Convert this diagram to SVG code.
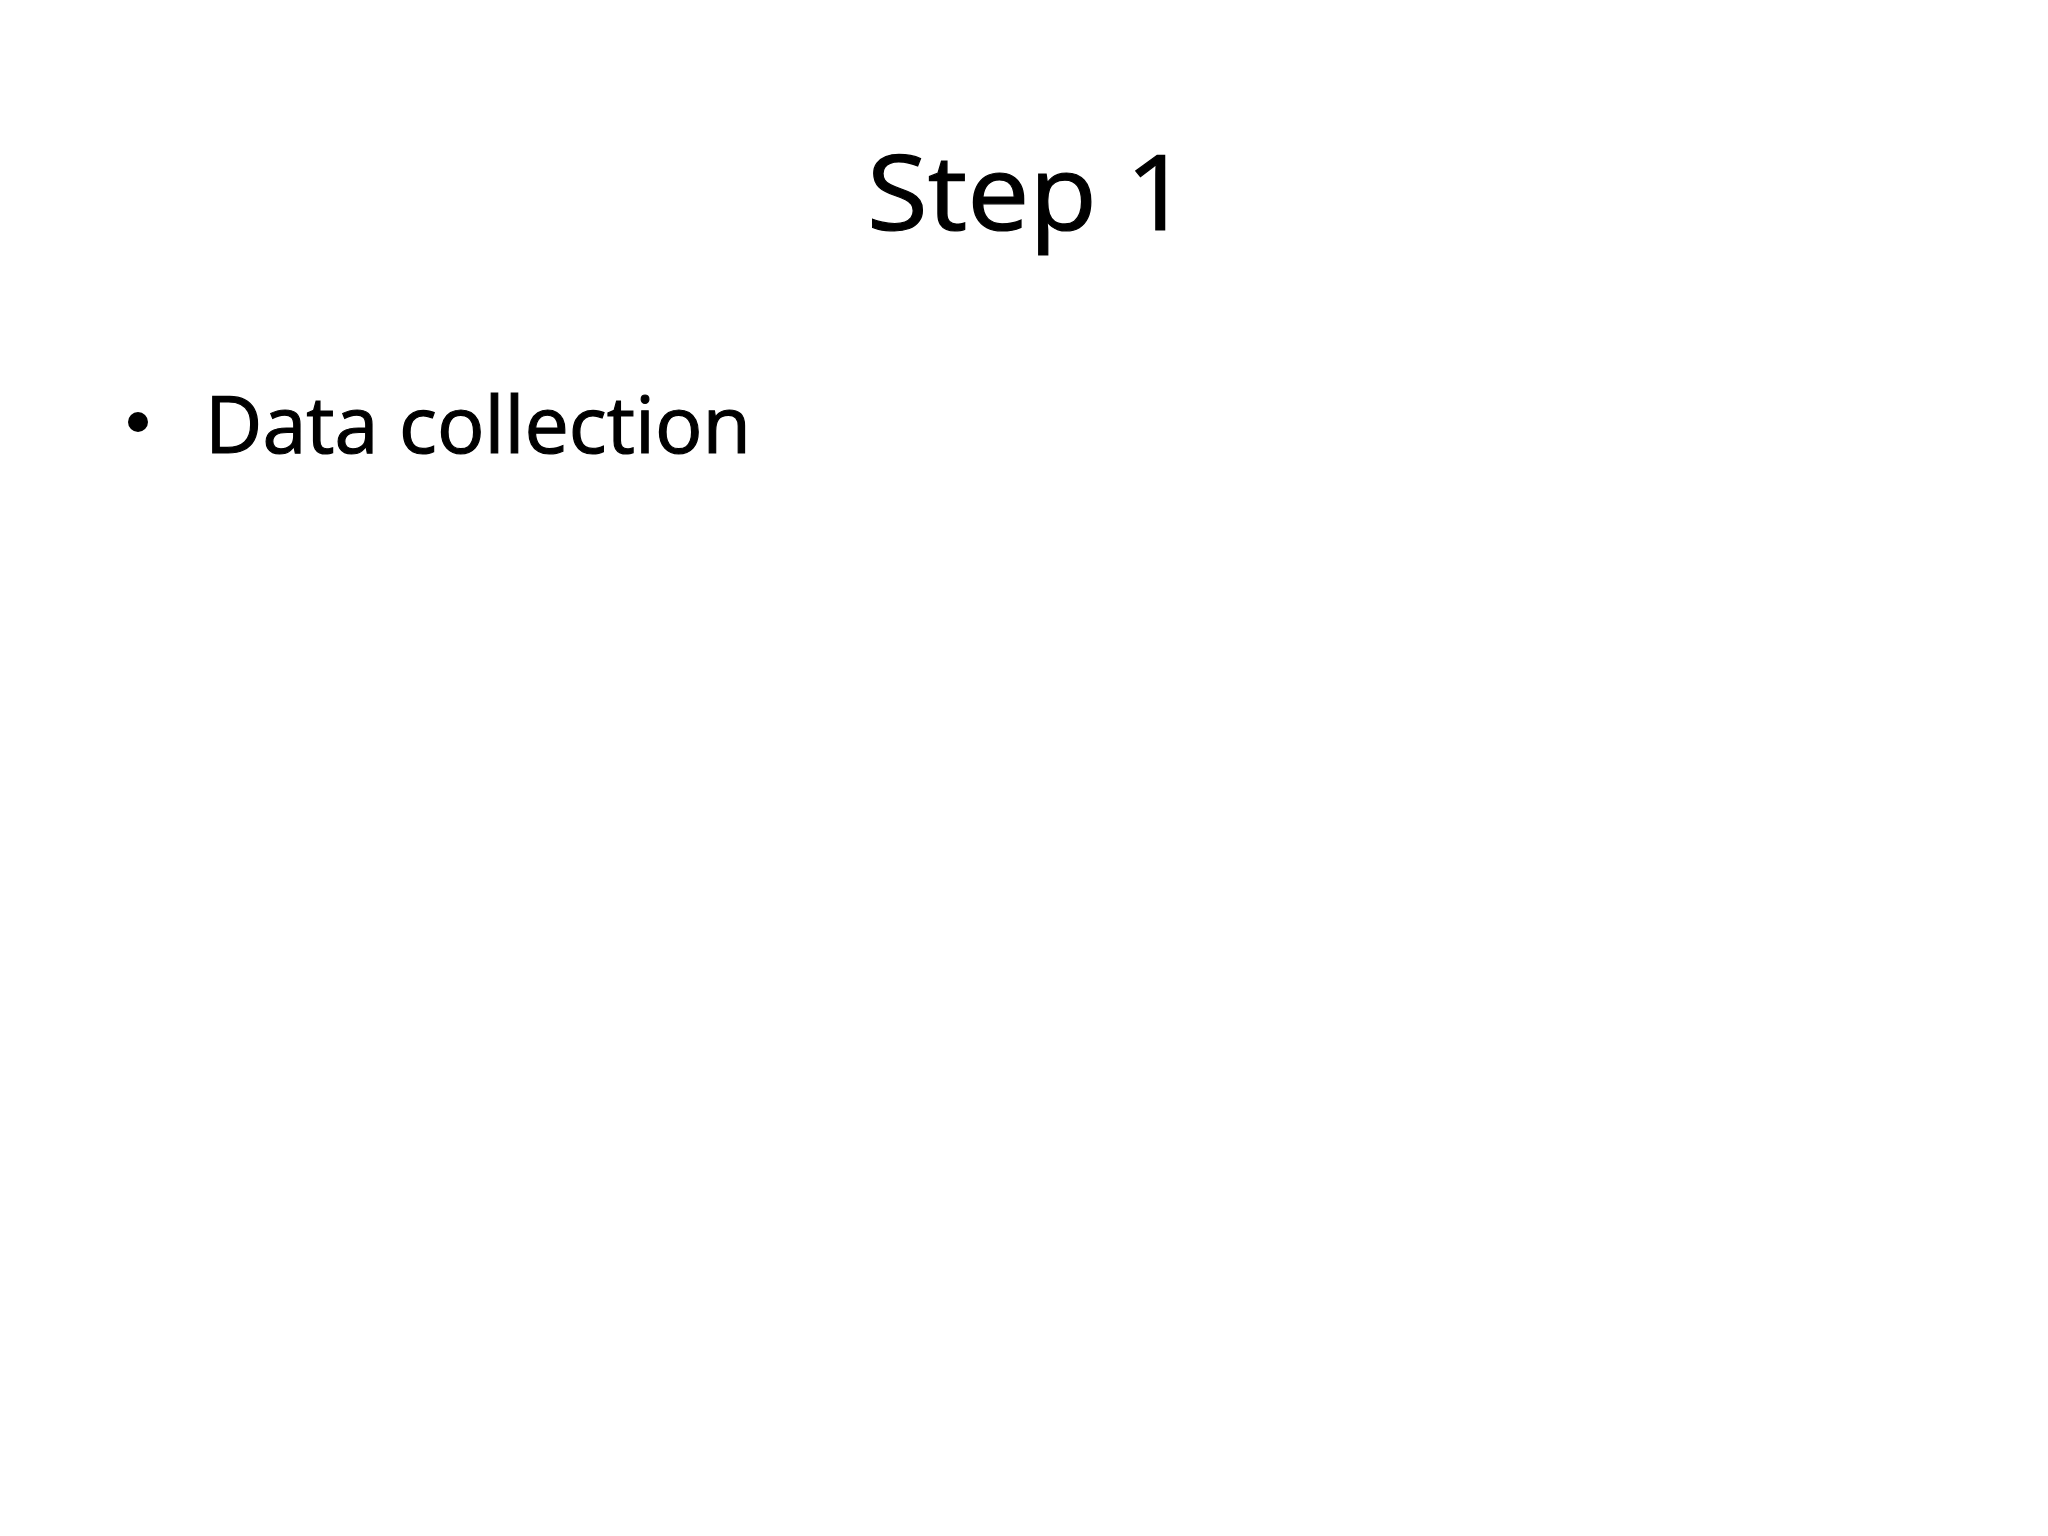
<svg xmlns="http://www.w3.org/2000/svg" width="2048" height="1536" viewBox="0 0 2048 1536">
<style>
.t{font-family:"Open Sans","Noto Sans","Liberation Sans",sans-serif;font-weight:400;fill:#000;stroke:#000;stroke-width:1.2}
</style>
<rect width="2048" height="1536" fill="#fff"/>
<g id="title"><text class="t" x="867" y="230" font-size="104" textLength="322" lengthAdjust="spacingAndGlyphs">Step 1</text></g>
<g id="bullet1">
<circle cx="138" cy="422" r="10" fill="#000"/>
<text class="t" x="205" y="453" font-size="79" textLength="546" lengthAdjust="spacingAndGlyphs">Data collection</text>
</g>
</svg>
